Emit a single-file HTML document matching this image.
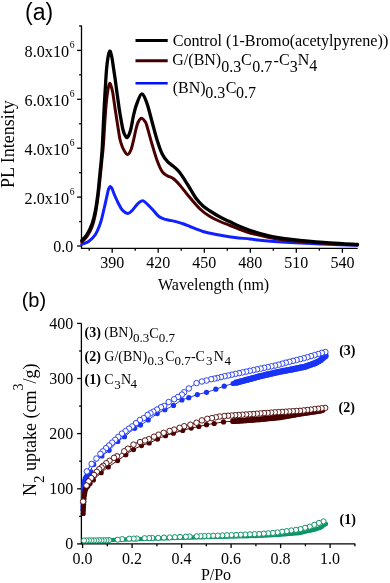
<!DOCTYPE html>
<html><head><meta charset="utf-8"><style>
html,body{margin:0;padding:0;background:#fff;}
body{width:390px;height:583px;overflow:hidden;}
svg{display:block;will-change:transform;}
</style></head><body>
<svg width="390" height="583" viewBox="0 0 390 583">
<g stroke="#000" stroke-width="1.3" fill="none">
<path d="M81.5,25.5 V248.4 H357.7"/>
<path d="M77.1,246.0 H81.5"/>
<path d="M79.1,221.6 H81.5"/>
<path d="M77.1,197.1 H81.5"/>
<path d="M79.1,172.7 H81.5"/>
<path d="M77.1,148.2 H81.5"/>
<path d="M79.1,123.8 H81.5"/>
<path d="M77.1,99.3 H81.5"/>
<path d="M79.1,74.8 H81.5"/>
<path d="M77.1,50.4 H81.5"/>
<path d="M79.1,26.0 H81.5"/>
<path d="M89.2,248.4 V250.8"/>
<path d="M112.2,248.4 V252.8"/>
<path d="M135.2,248.4 V250.8"/>
<path d="M158.2,248.4 V252.8"/>
<path d="M181.2,248.4 V250.8"/>
<path d="M204.3,248.4 V252.8"/>
<path d="M227.3,248.4 V250.8"/>
<path d="M250.3,248.4 V252.8"/>
<path d="M273.3,248.4 V250.8"/>
<path d="M296.3,248.4 V252.8"/>
<path d="M319.3,248.4 V250.8"/>
<path d="M342.4,248.4 V252.8"/>
</g>
<g fill="none" stroke-linejoin="round" stroke-linecap="round">
<path d="M81.80,244.30 C82.93,243.83 86.33,243.13 88.60,241.50 C90.87,239.87 93.40,237.67 95.40,234.50 C97.40,231.33 99.17,226.75 100.60,222.50 C102.03,218.25 103.00,213.17 104.00,209.00 C105.00,204.83 105.85,200.78 106.60,197.50 C107.35,194.22 107.90,191.15 108.50,189.30 C109.10,187.45 109.62,186.53 110.20,186.40 C110.78,186.27 111.35,187.23 112.00,188.50 C112.65,189.77 113.07,191.58 114.10,194.00 C115.13,196.42 116.83,200.33 118.20,203.00 C119.57,205.67 120.67,208.25 122.30,210.00 C123.93,211.75 126.28,213.50 128.00,213.50 C129.72,213.50 130.98,211.62 132.60,210.00 C134.22,208.38 136.00,205.33 137.70,203.80 C139.40,202.27 141.08,200.62 142.80,200.80 C144.52,200.98 146.30,203.37 148.00,204.90 C149.70,206.43 151.13,208.02 153.00,210.00 C154.87,211.98 157.13,215.23 159.20,216.80 C161.27,218.37 163.35,218.77 165.40,219.40 C167.45,220.03 169.45,220.15 171.50,220.60 C173.55,221.05 175.65,221.53 177.70,222.10 C179.75,222.67 181.75,223.27 183.80,224.00 C185.85,224.73 187.90,225.65 190.00,226.50 C192.10,227.35 194.27,228.27 196.40,229.10 C198.53,229.93 200.67,230.85 202.80,231.50 C204.93,232.15 206.00,232.33 209.20,233.00 C212.40,233.67 217.70,234.75 222.00,235.50 C226.30,236.25 230.33,236.92 235.00,237.50 C239.67,238.08 244.50,238.42 250.00,239.00 C255.50,239.58 259.67,240.33 268.00,241.00 C276.33,241.67 289.67,242.45 300.00,243.00 C310.33,243.55 320.42,243.93 330.00,244.30 C339.58,244.67 352.92,245.05 357.50,245.20" stroke="#1020ff" stroke-width="3"/>
<path d="M81.80,242.00 C82.67,241.08 85.30,239.00 87.00,236.50 C88.70,234.00 90.60,230.75 92.00,227.00 C93.40,223.25 94.40,219.00 95.40,214.00 C96.40,209.00 97.23,202.83 98.00,197.00 C98.77,191.17 99.37,185.00 100.00,179.00 C100.63,173.00 101.23,166.67 101.80,161.00 C102.37,155.33 102.77,153.33 103.40,145.00 C104.03,136.67 104.90,119.83 105.60,111.00 C106.30,102.17 106.93,96.57 107.60,92.00 C108.27,87.43 109.00,84.52 109.60,83.60 C110.20,82.68 110.67,84.93 111.20,86.50 C111.73,88.07 112.12,89.08 112.80,93.00 C113.48,96.92 114.37,103.83 115.30,110.00 C116.23,116.17 117.63,125.17 118.40,130.00 C119.17,134.83 119.30,136.33 119.90,139.00 C120.50,141.67 121.25,144.00 122.00,146.00 C122.75,148.00 123.50,149.57 124.40,151.00 C125.30,152.43 126.32,154.77 127.40,154.60 C128.48,154.43 129.87,152.43 130.90,150.00 C131.93,147.57 132.78,143.33 133.60,140.00 C134.42,136.67 135.03,133.00 135.80,130.00 C136.57,127.00 137.23,123.97 138.20,122.00 C139.17,120.03 140.47,118.28 141.60,118.20 C142.73,118.12 144.15,120.32 145.00,121.50 C145.85,122.68 145.55,121.58 146.70,125.30 C147.85,129.02 150.18,137.98 151.90,143.80 C153.62,149.62 155.28,155.57 157.00,160.20 C158.72,164.83 160.48,169.02 162.20,171.60 C163.92,174.18 165.42,174.50 167.30,175.70 C169.18,176.90 171.43,177.25 173.50,178.80 C175.57,180.35 177.30,182.27 179.70,185.00 C182.10,187.73 184.52,191.20 187.90,195.20 C191.28,199.20 196.32,205.45 200.00,209.00 C203.68,212.55 206.67,214.42 210.00,216.50 C213.33,218.58 216.67,220.00 220.00,221.50 C223.33,223.00 226.67,224.17 230.00,225.50 C233.33,226.83 236.67,228.25 240.00,229.50 C243.33,230.75 245.33,231.72 250.00,233.00 C254.67,234.28 262.17,236.03 268.00,237.20 C273.83,238.37 279.67,239.27 285.00,240.00 C290.33,240.73 292.50,240.98 300.00,241.60 C307.50,242.22 320.42,243.13 330.00,243.70 C339.58,244.27 352.92,244.78 357.50,245.00" stroke="#4a0000" stroke-width="3"/>
<path d="M81.80,240.50 C82.65,239.50 85.20,237.25 86.90,234.50 C88.60,231.75 90.58,228.00 92.00,224.00 C93.42,220.00 94.40,215.67 95.40,210.50 C96.40,205.33 97.28,198.75 98.00,193.00 C98.72,187.25 99.13,181.67 99.70,176.00 C100.27,170.33 100.95,164.17 101.40,159.00 C101.85,153.83 101.97,153.00 102.40,145.00 C102.83,137.00 103.38,122.67 104.00,111.00 C104.62,99.33 105.50,83.50 106.10,75.00 C106.70,66.50 107.00,63.97 107.60,60.00 C108.20,56.03 109.00,51.70 109.70,51.20 C110.40,50.70 111.17,54.20 111.80,57.00 C112.43,59.80 112.92,64.17 113.50,68.00 C114.08,71.83 114.78,76.33 115.30,80.00 C115.82,83.67 116.15,86.67 116.60,90.00 C117.05,93.33 117.53,96.67 118.00,100.00 C118.47,103.33 118.88,106.67 119.40,110.00 C119.92,113.33 120.53,116.83 121.10,120.00 C121.67,123.17 122.22,126.58 122.80,129.00 C123.38,131.42 123.85,133.10 124.60,134.50 C125.35,135.90 126.30,138.15 127.30,137.40 C128.30,136.65 129.55,133.73 130.60,130.00 C131.65,126.27 132.62,119.22 133.60,115.00 C134.58,110.78 135.17,108.20 136.50,104.70 C137.83,101.20 139.90,94.35 141.60,94.00 C143.30,93.65 144.98,98.07 146.70,102.60 C148.42,107.13 150.18,115.02 151.90,121.20 C153.62,127.38 155.28,134.23 157.00,139.70 C158.72,145.17 160.48,150.40 162.20,154.00 C163.92,157.60 165.42,159.23 167.30,161.30 C169.18,163.37 171.43,164.52 173.50,166.40 C175.57,168.28 177.30,169.50 179.70,172.60 C182.10,175.70 185.18,180.72 187.90,185.00 C190.62,189.28 193.48,194.80 196.00,198.30 C198.52,201.80 200.67,203.88 203.00,206.00 C205.33,208.12 207.17,209.17 210.00,211.00 C212.83,212.83 216.67,215.20 220.00,217.00 C223.33,218.80 226.67,220.22 230.00,221.80 C233.33,223.38 236.60,225.05 240.00,226.50 C243.40,227.95 245.73,228.98 250.40,230.50 C255.07,232.02 262.23,234.25 268.00,235.60 C273.77,236.95 279.67,237.82 285.00,238.60 C290.33,239.38 292.50,239.60 300.00,240.30 C307.50,241.00 320.42,242.13 330.00,242.80 C339.58,243.47 352.92,244.05 357.50,244.30" stroke="#000" stroke-width="3.3"/>
</g>
<path d="M135.5,40.5 H167.7" stroke="#000" stroke-width="3"/>
<path d="M135.5,60.8 H167.7" stroke="#400000" stroke-width="3"/>
<path d="M135.5,83.3 H167.7" stroke="#0010ff" stroke-width="2.5"/>
<g font-family="Liberation Serif"  font-size="16" fill="#000">
<text x="172.7" y="45.6" font-size="16.15">Control (1-Bromo(acetylpyrene))</text>
<text x="172.3" y="64.8" font-size="16">G/(BN)<tspan x="221.3" y="71.5">0.3</tspan><tspan x="241.1" y="64.8">C</tspan><tspan x="252.2" y="71.5">0.7</tspan><tspan x="273.6" y="66.3">-</tspan><tspan x="278.9" y="64.8">C</tspan><tspan x="289.8" y="71.5">3</tspan><tspan x="297.8" y="64.8">N</tspan><tspan x="309.3" y="71.2">4</tspan></text>
<text x="172.7" y="92.8" font-size="16">(BN)<tspan x="205.3" y="98.2">0.3</tspan><tspan x="225.8" y="92.8">C</tspan><tspan x="236.0" y="98.2">0.7</tspan></text>
<text x="24.6" y="56.8" font-size="16.2">8.0x10<tspan font-size="9.6" dx="0.6" dy="-8.6">6</tspan></text>
<text x="24.6" y="105.7" font-size="16.2">6.0x10<tspan font-size="9.6" dx="0.6" dy="-8.6">6</tspan></text>
<text x="24.6" y="154.6" font-size="16.2">4.0x10<tspan font-size="9.6" dx="0.6" dy="-8.6">6</tspan></text>
<text x="24.6" y="203.5" font-size="16.2">2.0x10<tspan font-size="9.6" dx="0.6" dy="-8.6">6</tspan></text>
<text x="73.2" y="252.0" text-anchor="end">0.0</text>
<text x="112.2" y="268.4" text-anchor="middle">390</text>
<text x="158.2" y="268.4" text-anchor="middle">420</text>
<text x="204.3" y="268.4" text-anchor="middle">450</text>
<text x="250.3" y="268.4" text-anchor="middle">480</text>
<text x="296.3" y="268.4" text-anchor="middle">510</text>
<text x="342.4" y="268.4" text-anchor="middle">540</text>
<text x="213.6" y="290" text-anchor="middle">Wavelength (nm)</text>
<text transform="translate(14.2,144.1) rotate(-90)" text-anchor="middle" font-size="18">PL Intensity</text>
</g>
<text x="25" y="19.5" font-family="Liberation Sans" font-size="23">(a)</text>
<g stroke="#000" stroke-width="1.3" fill="none">
<path d="M81.4,323.4 V543.9 H355.3"/>
<path d="M77.1,543.9 H81.5"/>
<path d="M79.1,516.3 H81.5"/>
<path d="M77.1,488.8 H81.5"/>
<path d="M79.1,461.2 H81.5"/>
<path d="M77.1,433.6 H81.5"/>
<path d="M79.1,406.1 H81.5"/>
<path d="M77.1,378.5 H81.5"/>
<path d="M79.1,351.0 H81.5"/>
<path d="M77.1,323.4 H81.5"/>
<path d="M82.6,543.9 V548.1"/>
<path d="M107.3,543.9 V546.3"/>
<path d="M132.1,543.9 V548.1"/>
<path d="M156.9,543.9 V546.3"/>
<path d="M181.6,543.9 V548.1"/>
<path d="M206.3,543.9 V546.3"/>
<path d="M231.1,543.9 V548.1"/>
<path d="M255.9,543.9 V546.3"/>
<path d="M280.6,543.9 V548.1"/>
<path d="M305.4,543.9 V546.3"/>
<path d="M330.1,543.9 V548.1"/>
<path d="M354.9,543.9 V546.3"/>
</g>
<path d="M84.00,541.00 C90.83,540.75 107.33,540.08 125.00,539.50 C142.67,538.92 168.33,538.08 190.00,537.50 C211.67,536.92 240.00,536.45 255.00,536.00 C270.00,535.55 272.50,535.30 280.00,534.80 C287.50,534.30 294.17,533.88 300.00,533.00 C305.83,532.12 311.67,530.33 315.00,529.50 C318.33,528.67 318.17,528.92 320.00,528.00 C321.83,527.08 325.00,524.67 326.00,524.00" fill="none" stroke="#0f9466" stroke-width="1.5"/>
<g fill="#0f9466"><circle cx="84.0" cy="541.0" r="2.2"/><circle cx="86.0" cy="540.9" r="2.2"/><circle cx="88.0" cy="540.9" r="2.2"/><circle cx="90.0" cy="540.8" r="2.2"/><circle cx="92.0" cy="540.7" r="2.2"/><circle cx="94.0" cy="540.6" r="2.2"/><circle cx="96.0" cy="540.6" r="2.2"/><circle cx="98.0" cy="540.5" r="2.2"/><circle cx="100.0" cy="540.4" r="2.2"/><circle cx="102.0" cy="540.3" r="2.2"/><circle cx="104.0" cy="540.3" r="2.2"/><circle cx="106.0" cy="540.2" r="2.2"/><circle cx="108.0" cy="540.1" r="2.2"/><circle cx="110.0" cy="540.0" r="2.2"/><circle cx="112.0" cy="540.0" r="2.2"/><circle cx="114.0" cy="539.9" r="2.2"/><circle cx="116.0" cy="539.8" r="2.2"/><circle cx="118.0" cy="539.8" r="2.2"/><circle cx="120.0" cy="539.7" r="2.2"/><circle cx="122.0" cy="539.6" r="2.2"/><circle cx="124.0" cy="539.5" r="2.2"/><circle cx="126.0" cy="539.5" r="2.2"/><circle cx="128.0" cy="539.4" r="2.2"/><circle cx="130.0" cy="539.3" r="2.2"/><circle cx="132.0" cy="539.3" r="2.2"/><circle cx="134.0" cy="539.2" r="2.2"/><circle cx="136.0" cy="539.2" r="2.2"/><circle cx="138.0" cy="539.1" r="2.2"/><circle cx="140.0" cy="539.0" r="2.2"/><circle cx="142.0" cy="539.0" r="2.2"/><circle cx="144.0" cy="538.9" r="2.2"/><circle cx="146.0" cy="538.9" r="2.2"/><circle cx="148.0" cy="538.8" r="2.2"/><circle cx="150.0" cy="538.7" r="2.2"/><circle cx="152.0" cy="538.7" r="2.2"/><circle cx="154.0" cy="538.6" r="2.2"/><circle cx="156.0" cy="538.5" r="2.2"/><circle cx="158.0" cy="538.5" r="2.2"/><circle cx="160.0" cy="538.4" r="2.2"/><circle cx="162.0" cy="538.4" r="2.2"/><circle cx="164.0" cy="538.3" r="2.2"/><circle cx="166.0" cy="538.2" r="2.2"/><circle cx="168.0" cy="538.2" r="2.2"/><circle cx="170.0" cy="538.1" r="2.2"/><circle cx="172.0" cy="538.1" r="2.2"/><circle cx="174.0" cy="538.0" r="2.2"/><circle cx="176.0" cy="537.9" r="2.2"/><circle cx="178.0" cy="537.9" r="2.2"/><circle cx="180.0" cy="537.8" r="2.2"/><circle cx="182.0" cy="537.7" r="2.2"/><circle cx="184.0" cy="537.7" r="2.2"/><circle cx="186.0" cy="537.6" r="2.2"/><circle cx="188.0" cy="537.6" r="2.2"/><circle cx="190.0" cy="537.5" r="2.2"/><circle cx="192.0" cy="537.5" r="2.2"/><circle cx="194.0" cy="537.4" r="2.2"/><circle cx="196.0" cy="537.4" r="2.2"/><circle cx="198.0" cy="537.3" r="2.2"/><circle cx="200.0" cy="537.3" r="2.2"/><circle cx="202.0" cy="537.2" r="2.2"/><circle cx="204.0" cy="537.2" r="2.2"/><circle cx="206.0" cy="537.1" r="2.2"/><circle cx="208.0" cy="537.1" r="2.2"/><circle cx="210.0" cy="537.0" r="2.2"/><circle cx="212.0" cy="537.0" r="2.2"/><circle cx="214.0" cy="536.9" r="2.2"/><circle cx="216.0" cy="536.9" r="2.2"/><circle cx="218.0" cy="536.9" r="2.2"/><circle cx="220.0" cy="536.8" r="2.2"/><circle cx="222.0" cy="536.8" r="2.2"/><circle cx="224.0" cy="536.7" r="2.2"/><circle cx="226.0" cy="536.7" r="2.2"/><circle cx="228.0" cy="536.6" r="2.2"/><circle cx="230.0" cy="536.6" r="2.2"/><circle cx="232.0" cy="536.5" r="2.2"/><circle cx="234.0" cy="536.5" r="2.2"/><circle cx="236.0" cy="536.4" r="2.2"/><circle cx="238.0" cy="536.4" r="2.2"/><circle cx="240.0" cy="536.3" r="2.2"/><circle cx="242.0" cy="536.3" r="2.2"/><circle cx="244.0" cy="536.3" r="2.2"/><circle cx="246.0" cy="536.2" r="2.2"/><circle cx="248.0" cy="536.2" r="2.2"/><circle cx="250.0" cy="536.1" r="2.2"/><circle cx="252.0" cy="536.1" r="2.2"/><circle cx="254.0" cy="536.0" r="2.2"/><circle cx="256.0" cy="536.0" r="2.2"/><circle cx="258.0" cy="535.9" r="2.2"/><circle cx="260.0" cy="535.8" r="2.2"/><circle cx="262.0" cy="535.7" r="2.2"/><circle cx="264.0" cy="535.6" r="2.2"/><circle cx="266.0" cy="535.5" r="2.2"/><circle cx="268.0" cy="535.4" r="2.2"/><circle cx="270.0" cy="535.3" r="2.2"/><circle cx="272.0" cy="535.2" r="2.2"/><circle cx="274.0" cy="535.1" r="2.2"/><circle cx="276.0" cy="535.0" r="2.2"/><circle cx="278.0" cy="534.9" r="2.2"/><circle cx="280.0" cy="534.8" r="2.2"/><circle cx="282.0" cy="534.6" r="2.2"/><circle cx="284.0" cy="534.4" r="2.2"/><circle cx="286.0" cy="534.3" r="2.2"/><circle cx="288.0" cy="534.1" r="2.2"/><circle cx="290.0" cy="533.9" r="2.2"/><circle cx="292.0" cy="533.7" r="2.2"/><circle cx="294.0" cy="533.5" r="2.2"/><circle cx="296.0" cy="533.4" r="2.2"/><circle cx="298.0" cy="533.2" r="2.2"/><circle cx="300.0" cy="533.0" r="2.2"/><circle cx="302.0" cy="532.5" r="2.2"/><circle cx="304.0" cy="532.1" r="2.2"/><circle cx="306.0" cy="531.6" r="2.2"/><circle cx="308.0" cy="531.1" r="2.2"/><circle cx="310.0" cy="530.7" r="2.2"/><circle cx="312.0" cy="530.2" r="2.2"/><circle cx="314.0" cy="529.7" r="2.2"/><circle cx="316.0" cy="529.2" r="2.2"/><circle cx="318.0" cy="528.6" r="2.2"/><circle cx="320.0" cy="528.0" r="2.2"/><circle cx="322.0" cy="526.7" r="2.2"/><circle cx="324.0" cy="525.3" r="2.2"/><circle cx="326.0" cy="524.0" r="2.2"/></g>
<g fill="#fff" stroke="#0f9466" stroke-width="1.0"><circle cx="323.5" cy="521.4" r="2.6"/><circle cx="318.9" cy="522.9" r="2.6"/><circle cx="314.3" cy="524.8" r="2.6"/><circle cx="309.7" cy="526.6" r="2.6"/><circle cx="305.1" cy="527.8" r="2.6"/><circle cx="300.5" cy="529.1" r="2.6"/><circle cx="295.9" cy="529.8" r="2.6"/><circle cx="291.3" cy="530.4" r="2.6"/><circle cx="286.7" cy="531.1" r="2.6"/><circle cx="282.1" cy="531.7" r="2.6"/><circle cx="277.5" cy="532.4" r="2.6"/><circle cx="272.9" cy="532.9" r="2.6"/><circle cx="268.3" cy="533.2" r="2.6"/><circle cx="263.7" cy="533.6" r="2.6"/><circle cx="259.1" cy="533.9" r="2.6"/><circle cx="254.5" cy="534.1" r="2.6"/><circle cx="249.9" cy="534.3" r="2.6"/><circle cx="245.3" cy="534.5" r="2.6"/><circle cx="240.7" cy="534.7" r="2.6"/><circle cx="236.1" cy="534.9" r="2.6"/><circle cx="231.5" cy="535.0" r="2.6"/><circle cx="226.9" cy="535.2" r="2.6"/><circle cx="222.3" cy="535.4" r="2.6"/><circle cx="217.7" cy="535.6" r="2.6"/><circle cx="213.1" cy="535.7" r="2.6"/><circle cx="208.5" cy="535.9" r="2.6"/><circle cx="204.4" cy="536.0" r="2.6"/><circle cx="200.5" cy="536.1" r="2.6"/><circle cx="196.7" cy="536.3" r="2.6"/><circle cx="189.6" cy="536.5" r="2.6"/><circle cx="185.8" cy="536.7" r="2.6"/><circle cx="180.0" cy="536.9" r="2.6"/><circle cx="174.9" cy="537.2" r="2.6"/><circle cx="169.7" cy="537.4" r="2.6"/><circle cx="164.0" cy="537.6" r="2.6"/><circle cx="158.2" cy="537.9" r="2.6"/><circle cx="152.3" cy="538.0" r="2.6"/><circle cx="149.1" cy="538.1" r="2.6"/><circle cx="144.6" cy="538.2" r="2.6"/><circle cx="136.9" cy="538.5" r="2.6"/><circle cx="133.7" cy="538.6" r="2.6"/><circle cx="129.2" cy="538.7" r="2.6"/><circle cx="122.2" cy="539.1" r="2.6"/><circle cx="117.7" cy="539.7" r="2.6"/><circle cx="109.0" cy="540.2" r="2.6"/><circle cx="106.5" cy="540.3" r="2.6"/><circle cx="104.0" cy="540.3" r="2.6"/><circle cx="101.5" cy="540.3" r="2.6"/><circle cx="99.0" cy="540.3" r="2.6"/><circle cx="96.5" cy="540.4" r="2.6"/><circle cx="94.0" cy="540.4" r="2.6"/><circle cx="91.5" cy="540.4" r="2.6"/><circle cx="89.0" cy="540.4" r="2.6"/><circle cx="86.5" cy="540.5" r="2.6"/><circle cx="84.0" cy="540.5" r="2.6"/></g>
<path d="M86.80,471.40 C87.60,470.15 90.00,466.05 91.60,463.90 C93.20,461.75 94.93,460.18 96.40,458.50 C97.87,456.82 99.32,455.00 100.40,453.80 C101.48,452.60 101.97,452.23 102.90,451.30 C103.83,450.37 104.45,449.65 106.00,448.20 C107.55,446.75 110.15,444.48 112.20,442.60 C114.25,440.72 116.68,438.40 118.30,436.90 C119.92,435.40 120.12,434.98 121.90,433.60 C123.68,432.22 127.28,429.80 129.00,428.60 C130.72,427.40 130.38,427.83 132.20,426.40 C134.02,424.97 137.98,421.38 139.90,420.00 C141.82,418.62 142.42,418.95 143.70,418.10 C144.98,417.25 146.00,415.97 147.60,414.90 C149.20,413.83 151.07,412.98 153.30,411.70 C155.53,410.42 159.18,408.17 161.00,407.20 C162.82,406.23 162.92,406.77 164.20,405.90 C165.48,405.03 167.67,402.73 168.70,402.00 C169.73,401.27 169.48,401.97 170.40,401.50 C171.32,401.03 172.28,400.35 174.20,399.20 C176.12,398.05 180.23,395.75 181.90,394.60 C183.57,393.45 183.05,393.32 184.20,392.30 C185.35,391.28 186.75,390.03 188.80,388.50 C190.85,386.97 194.32,384.27 196.50,383.10 C198.68,381.93 200.23,381.93 201.90,381.50 C203.57,381.07 204.95,380.88 206.50,380.50 C208.05,380.12 209.40,379.62 211.20,379.20 C213.00,378.78 215.50,378.40 217.30,378.00 C219.10,377.60 216.55,378.00 222.00,376.80 C227.45,375.60 241.03,372.70 250.00,370.80 C258.97,368.90 269.07,366.95 275.80,365.40 C282.53,363.85 285.40,362.78 290.40,361.50 C295.40,360.22 301.95,358.72 305.80,357.70 C309.65,356.68 310.93,356.17 313.50,355.40 C316.07,354.63 318.90,353.75 321.20,353.10 C323.50,352.45 326.28,351.77 327.30,351.50" fill="none" stroke="#1a33f8" stroke-width="1"/>
<path d="M83.50,509.00 C83.58,507.17 83.78,501.33 84.00,498.00 C84.22,494.67 84.38,491.83 84.80,489.00 C85.22,486.17 85.88,483.25 86.50,481.00 C87.12,478.75 87.30,478.25 88.50,475.50 C89.70,472.75 91.47,467.75 93.70,464.50 C95.93,461.25 99.33,458.37 101.90,456.00 C104.47,453.63 106.45,452.72 109.10,450.30 C111.75,447.88 115.23,443.77 117.80,441.50 C120.37,439.23 121.68,438.90 124.50,436.70 C127.32,434.50 132.03,430.23 134.70,428.30 C137.37,426.37 138.25,426.48 140.50,425.10 C142.75,423.72 145.42,421.92 148.20,420.00 C150.98,418.08 154.42,415.32 157.20,413.60 C159.98,411.88 162.18,411.07 164.90,409.70 C167.62,408.33 170.67,407.02 173.50,405.40 C176.33,403.78 179.35,401.28 181.90,400.00 C184.45,398.72 186.23,398.60 188.80,397.70 C191.37,396.80 194.35,395.50 197.30,394.60 C200.25,393.70 203.42,393.20 206.50,392.30 C209.58,391.40 212.85,390.22 215.80,389.20 C218.75,388.18 221.32,387.15 224.20,386.20 C227.08,385.25 230.47,384.27 233.10,383.50 C235.73,382.73 237.18,382.35 240.00,381.60 C242.82,380.85 246.67,379.88 250.00,379.00 C253.33,378.12 256.67,377.13 260.00,376.30 C263.33,375.47 266.67,374.75 270.00,374.00 C273.33,373.25 276.67,372.47 280.00,371.80 C283.33,371.13 285.83,370.80 290.00,370.00 C294.17,369.20 300.83,368.08 305.00,367.00 C309.17,365.92 312.50,364.50 315.00,363.50 C317.50,362.50 318.17,362.25 320.00,361.00 C321.83,359.75 325.00,356.83 326.00,356.00" fill="none" stroke="#1a33f8" stroke-width="1"/>
<g fill="#1a33f8"><circle cx="83.0" cy="509.0" r="2.6"/><circle cx="83.1" cy="506.0" r="2.6"/><circle cx="83.2" cy="503.0" r="2.6"/><circle cx="83.3" cy="500.0" r="2.6"/><circle cx="83.4" cy="497.0" r="2.6"/><circle cx="83.5" cy="494.0" r="2.6"/><circle cx="83.6" cy="491.0" r="2.6"/><circle cx="83.8" cy="488.0" r="2.6"/><circle cx="84.0" cy="485.5" r="2.6"/><circle cx="84.3" cy="483.0" r="2.6"/><circle cx="84.7" cy="480.5" r="2.6"/><circle cx="85.3" cy="478.3" r="2.6"/><circle cx="86.2" cy="476.5" r="2.6"/><circle cx="87.5" cy="475.3" r="2.6"/><circle cx="89.0" cy="474.6" r="2.6"/><circle cx="91.0" cy="471.8" r="2.6"/><circle cx="93.7" cy="464.5" r="2.6"/><circle cx="101.9" cy="456.0" r="2.6"/><circle cx="109.1" cy="450.3" r="2.6"/><circle cx="117.8" cy="441.5" r="2.6"/><circle cx="124.5" cy="436.7" r="2.6"/><circle cx="134.7" cy="428.3" r="2.6"/><circle cx="140.5" cy="425.1" r="2.6"/><circle cx="148.2" cy="420.0" r="2.6"/><circle cx="157.2" cy="413.6" r="2.6"/><circle cx="164.9" cy="409.7" r="2.6"/><circle cx="173.5" cy="405.4" r="2.6"/><circle cx="181.9" cy="400.0" r="2.6"/><circle cx="188.8" cy="397.7" r="2.6"/><circle cx="197.3" cy="394.6" r="2.6"/><circle cx="206.5" cy="392.3" r="2.6"/><circle cx="215.8" cy="389.2" r="2.6"/><circle cx="224.2" cy="386.2" r="2.6"/><circle cx="233.1" cy="383.5" r="2.6"/></g>
<g fill="#1a33f8"><circle cx="236.0" cy="382.7" r="3.1"/><circle cx="237.6" cy="382.3" r="3.1"/><circle cx="239.2" cy="381.8" r="3.1"/><circle cx="240.8" cy="381.4" r="3.1"/><circle cx="242.4" cy="381.0" r="3.1"/><circle cx="244.0" cy="380.6" r="3.1"/><circle cx="245.6" cy="380.1" r="3.1"/><circle cx="247.2" cy="379.7" r="3.1"/><circle cx="248.8" cy="379.3" r="3.1"/><circle cx="250.4" cy="378.9" r="3.1"/><circle cx="252.0" cy="378.4" r="3.1"/><circle cx="253.6" cy="378.0" r="3.1"/><circle cx="255.2" cy="377.6" r="3.1"/><circle cx="256.8" cy="377.1" r="3.1"/><circle cx="258.4" cy="376.7" r="3.1"/><circle cx="260.0" cy="376.2" r="3.1"/><circle cx="261.6" cy="375.9" r="3.1"/><circle cx="263.2" cy="375.5" r="3.1"/><circle cx="264.8" cy="375.1" r="3.1"/><circle cx="266.4" cy="374.7" r="3.1"/><circle cx="268.0" cy="374.4" r="3.1"/><circle cx="269.6" cy="374.0" r="3.1"/><circle cx="271.2" cy="373.6" r="3.1"/><circle cx="272.8" cy="373.3" r="3.1"/><circle cx="274.4" cy="372.9" r="3.1"/><circle cx="276.0" cy="372.5" r="3.1"/><circle cx="277.6" cy="372.2" r="3.1"/><circle cx="279.2" cy="371.8" r="3.1"/><circle cx="280.8" cy="371.5" r="3.1"/><circle cx="282.4" cy="371.2" r="3.1"/><circle cx="284.0" cy="370.9" r="3.1"/><circle cx="285.6" cy="370.6" r="3.1"/><circle cx="287.2" cy="370.3" r="3.1"/><circle cx="288.8" cy="370.0" r="3.1"/><circle cx="290.4" cy="369.7" r="3.1"/><circle cx="292.0" cy="369.4" r="3.1"/><circle cx="293.6" cy="369.1" r="3.1"/><circle cx="295.2" cy="368.7" r="3.1"/><circle cx="296.8" cy="368.4" r="3.1"/><circle cx="298.4" cy="368.1" r="3.1"/><circle cx="300.0" cy="367.7" r="3.1"/><circle cx="301.6" cy="367.4" r="3.1"/><circle cx="303.2" cy="367.1" r="3.1"/><circle cx="304.8" cy="366.8" r="3.1"/><circle cx="306.4" cy="366.2" r="3.1"/><circle cx="308.0" cy="365.6" r="3.1"/><circle cx="309.6" cy="365.1" r="3.1"/><circle cx="311.2" cy="364.5" r="3.1"/><circle cx="312.8" cy="363.9" r="3.1"/><circle cx="314.4" cy="363.4" r="3.1"/><circle cx="316.0" cy="362.7" r="3.1"/><circle cx="317.6" cy="361.8" r="3.1"/><circle cx="319.2" cy="361.0" r="3.1"/><circle cx="320.8" cy="360.0" r="3.1"/><circle cx="322.4" cy="358.6" r="3.1"/><circle cx="324.0" cy="357.3" r="3.1"/><circle cx="325.6" cy="355.9" r="3.1"/></g>
<g fill="#fff" stroke="#1a33f8" stroke-width="0.9"><circle cx="325.4" cy="352.0" r="2.75"/><circle cx="321.8" cy="352.9" r="2.75"/><circle cx="318.2" cy="354.0" r="2.75"/><circle cx="314.6" cy="355.1" r="2.75"/><circle cx="311.0" cy="356.1" r="2.75"/><circle cx="307.4" cy="357.2" r="2.75"/><circle cx="303.8" cy="358.2" r="2.75"/><circle cx="300.2" cy="359.1" r="2.75"/><circle cx="296.6" cy="360.0" r="2.75"/><circle cx="293.0" cy="360.9" r="2.75"/><circle cx="289.4" cy="361.8" r="2.75"/><circle cx="285.8" cy="362.7" r="2.75"/><circle cx="282.2" cy="363.7" r="2.75"/><circle cx="278.6" cy="364.7" r="2.75"/><circle cx="275.0" cy="365.6" r="2.75"/><circle cx="271.4" cy="366.3" r="2.75"/><circle cx="267.8" cy="367.1" r="2.75"/><circle cx="264.2" cy="367.8" r="2.75"/><circle cx="260.6" cy="368.6" r="2.75"/><circle cx="257.0" cy="369.3" r="2.75"/><circle cx="253.4" cy="370.1" r="2.75"/><circle cx="249.8" cy="370.8" r="2.75"/><circle cx="246.2" cy="371.6" r="2.75"/><circle cx="242.6" cy="372.4" r="2.75"/><circle cx="239.0" cy="373.2" r="2.75"/><circle cx="235.4" cy="373.9" r="2.75"/><circle cx="231.8" cy="374.7" r="2.75"/><circle cx="228.2" cy="375.5" r="2.75"/><circle cx="224.6" cy="376.2" r="2.75"/><circle cx="221.0" cy="377.1" r="2.75"/><circle cx="217.3" cy="378.0" r="2.75"/><circle cx="214.5" cy="378.6" r="2.75"/><circle cx="211.2" cy="379.2" r="2.75"/><circle cx="206.5" cy="380.5" r="2.75"/><circle cx="201.9" cy="381.5" r="2.75"/><circle cx="196.5" cy="383.1" r="2.75"/><circle cx="188.8" cy="388.5" r="2.75"/><circle cx="184.2" cy="392.3" r="2.75"/><circle cx="181.9" cy="394.6" r="2.75"/><circle cx="178.0" cy="396.9" r="2.75"/><circle cx="174.2" cy="399.2" r="2.75"/><circle cx="168.7" cy="402.0" r="2.75"/><circle cx="164.2" cy="405.9" r="2.75"/><circle cx="161.0" cy="407.2" r="2.75"/><circle cx="157.0" cy="409.5" r="2.75"/><circle cx="153.3" cy="411.7" r="2.75"/><circle cx="150.5" cy="413.3" r="2.75"/><circle cx="147.6" cy="414.9" r="2.75"/><circle cx="143.7" cy="418.1" r="2.75"/><circle cx="139.9" cy="420.0" r="2.75"/><circle cx="136.0" cy="423.2" r="2.75"/><circle cx="132.2" cy="426.4" r="2.75"/><circle cx="129.0" cy="428.6" r="2.75"/><circle cx="125.5" cy="431.1" r="2.75"/><circle cx="121.9" cy="433.6" r="2.75"/><circle cx="118.3" cy="436.9" r="2.75"/><circle cx="115.2" cy="439.8" r="2.75"/><circle cx="112.2" cy="442.6" r="2.75"/><circle cx="109.0" cy="445.5" r="2.75"/><circle cx="106.0" cy="448.2" r="2.75"/><circle cx="102.9" cy="451.3" r="2.75"/><circle cx="100.4" cy="453.8" r="2.75"/><circle cx="96.4" cy="458.5" r="2.75"/><circle cx="91.6" cy="463.9" r="2.75"/><circle cx="86.8" cy="471.4" r="2.75"/></g>
<path d="M83.10,501.60 C83.67,498.92 85.58,488.87 86.50,485.50 C87.42,482.13 87.80,482.65 88.60,481.40 C89.40,480.15 90.40,479.08 91.30,478.00 C92.20,476.92 93.08,475.93 94.00,474.90 C94.92,473.87 95.93,472.75 96.80,471.80 C97.67,470.85 98.42,469.92 99.20,469.20 C99.98,468.48 100.53,468.35 101.50,467.50 C102.47,466.65 103.13,465.60 105.00,464.10 C106.87,462.60 110.73,459.78 112.70,458.50 C114.67,457.22 115.00,457.52 116.80,456.40 C118.60,455.28 120.52,453.92 123.50,451.80 C126.48,449.68 131.12,445.58 134.70,443.70 C138.28,441.82 142.65,441.25 145.00,440.50 C147.35,439.75 147.30,439.83 148.80,439.20 C150.30,438.57 152.38,437.45 154.00,436.70 C155.62,435.95 156.90,435.35 158.50,434.70 C160.10,434.05 161.75,433.42 163.60,432.80 C165.45,432.18 167.83,431.53 169.60,431.00 C171.37,430.47 172.53,430.13 174.20,429.60 C175.87,429.07 177.93,428.37 179.60,427.80 C181.27,427.23 182.40,426.72 184.20,426.20 C186.00,425.68 188.35,425.28 190.40,424.70 C192.45,424.12 194.58,423.42 196.50,422.70 C198.42,421.98 200.10,421.05 201.90,420.40 C203.70,419.75 205.63,419.18 207.30,418.80 C208.97,418.42 210.48,418.35 211.90,418.10 C213.32,417.85 214.52,417.57 215.80,417.30 C217.08,417.03 218.20,416.72 219.60,416.50 C221.00,416.28 219.13,416.38 224.20,416.00 C229.27,415.62 241.53,414.82 250.00,414.20 C258.47,413.58 266.67,412.87 275.00,412.30 C283.33,411.73 292.50,411.43 300.00,410.80 C307.50,410.17 315.45,409.02 320.00,408.50 C324.55,407.98 326.08,407.83 327.30,407.70" fill="none" stroke="#4a0000" stroke-width="1"/>
<path d="M83.50,513.50 C83.55,512.08 83.63,507.75 83.80,505.00 C83.97,502.25 84.17,499.33 84.50,497.00 C84.83,494.67 85.30,492.67 85.80,491.00 C86.30,489.33 86.80,488.17 87.50,487.00 C88.20,485.83 89.02,485.17 90.00,484.00 C90.98,482.83 91.55,481.87 93.40,480.00 C95.25,478.13 98.57,475.02 101.10,472.80 C103.63,470.58 105.82,468.75 108.60,466.70 C111.38,464.65 114.90,462.52 117.80,460.50 C120.70,458.48 123.53,456.35 126.00,454.60 C128.47,452.85 130.02,451.50 132.60,450.00 C135.18,448.50 138.73,446.77 141.50,445.60 C144.27,444.43 146.53,444.08 149.20,443.00 C151.87,441.92 154.78,440.32 157.50,439.10 C160.22,437.88 162.85,436.68 165.50,435.70 C168.15,434.72 170.53,434.08 173.40,433.20 C176.27,432.32 179.73,431.25 182.70,430.40 C185.67,429.55 188.52,428.75 191.20,428.10 C193.88,427.45 196.25,427.07 198.80,426.50 C201.35,425.93 203.93,425.20 206.50,424.70 C209.07,424.20 211.37,423.97 214.20,423.50 C217.03,423.03 220.53,422.27 223.50,421.90 C226.47,421.53 229.25,421.48 232.00,421.30 C234.75,421.12 235.33,421.13 240.00,420.80 C244.67,420.47 253.33,419.88 260.00,419.30 C266.67,418.72 273.33,418.22 280.00,417.30 C286.67,416.38 293.33,414.88 300.00,413.80 C306.67,412.72 316.00,411.52 320.00,410.80 C324.00,410.08 323.33,409.72 324.00,409.50" fill="none" stroke="#4a0000" stroke-width="1"/>
<g fill="#4a0000"><circle cx="83.2" cy="513.5" r="2.6"/><circle cx="83.3" cy="510.5" r="2.6"/><circle cx="83.4" cy="507.5" r="2.6"/><circle cx="83.6" cy="504.5" r="2.6"/><circle cx="83.8" cy="501.5" r="2.6"/><circle cx="84.0" cy="498.5" r="2.6"/><circle cx="84.3" cy="495.5" r="2.6"/><circle cx="84.7" cy="493.0" r="2.6"/><circle cx="85.2" cy="490.5" r="2.6"/><circle cx="85.8" cy="488.5" r="2.6"/><circle cx="86.6" cy="487.2" r="2.6"/><circle cx="88.0" cy="486.0" r="2.6"/><circle cx="90.0" cy="483.5" r="2.6"/><circle cx="93.4" cy="480.0" r="2.6"/><circle cx="101.2" cy="472.7" r="2.6"/><circle cx="108.3" cy="466.9" r="2.6"/><circle cx="117.6" cy="460.6" r="2.6"/><circle cx="125.8" cy="454.7" r="2.6"/><circle cx="133.5" cy="449.6" r="2.6"/><circle cx="141.5" cy="445.6" r="2.6"/><circle cx="149.2" cy="443.0" r="2.6"/><circle cx="157.5" cy="439.1" r="2.6"/><circle cx="165.5" cy="435.7" r="2.6"/><circle cx="173.4" cy="433.2" r="2.6"/><circle cx="182.7" cy="430.4" r="2.6"/><circle cx="191.2" cy="428.1" r="2.6"/><circle cx="198.8" cy="426.5" r="2.6"/><circle cx="206.5" cy="424.7" r="2.6"/><circle cx="214.2" cy="423.5" r="2.6"/><circle cx="223.5" cy="421.9" r="2.6"/></g>
<g fill="#4a0000"><circle cx="233.0" cy="421.2" r="2.85"/><circle cx="234.6" cy="421.1" r="2.85"/><circle cx="236.2" cy="421.0" r="2.85"/><circle cx="237.8" cy="420.9" r="2.85"/><circle cx="239.4" cy="420.8" r="2.85"/><circle cx="241.0" cy="420.7" r="2.85"/><circle cx="242.6" cy="420.6" r="2.85"/><circle cx="244.2" cy="420.5" r="2.85"/><circle cx="245.8" cy="420.4" r="2.85"/><circle cx="247.4" cy="420.2" r="2.85"/><circle cx="249.0" cy="420.1" r="2.85"/><circle cx="250.6" cy="420.0" r="2.85"/><circle cx="252.2" cy="419.9" r="2.85"/><circle cx="253.8" cy="419.8" r="2.85"/><circle cx="255.4" cy="419.6" r="2.85"/><circle cx="257.0" cy="419.5" r="2.85"/><circle cx="258.6" cy="419.4" r="2.85"/><circle cx="260.2" cy="419.3" r="2.85"/><circle cx="261.8" cy="419.1" r="2.85"/><circle cx="263.4" cy="419.0" r="2.85"/><circle cx="265.0" cy="418.8" r="2.85"/><circle cx="266.6" cy="418.6" r="2.85"/><circle cx="268.2" cy="418.5" r="2.85"/><circle cx="269.8" cy="418.3" r="2.85"/><circle cx="271.4" cy="418.2" r="2.85"/><circle cx="273.0" cy="418.0" r="2.85"/><circle cx="274.6" cy="417.8" r="2.85"/><circle cx="276.2" cy="417.7" r="2.85"/><circle cx="277.8" cy="417.5" r="2.85"/><circle cx="279.4" cy="417.4" r="2.85"/><circle cx="281.0" cy="417.1" r="2.85"/><circle cx="282.6" cy="416.8" r="2.85"/><circle cx="284.2" cy="416.6" r="2.85"/><circle cx="285.8" cy="416.3" r="2.85"/><circle cx="287.4" cy="416.0" r="2.85"/><circle cx="289.0" cy="415.7" r="2.85"/><circle cx="290.6" cy="415.4" r="2.85"/><circle cx="292.2" cy="415.2" r="2.85"/><circle cx="293.8" cy="414.9" r="2.85"/><circle cx="295.4" cy="414.6" r="2.85"/><circle cx="297.0" cy="414.3" r="2.85"/><circle cx="298.6" cy="414.0" r="2.85"/><circle cx="300.2" cy="413.8" r="2.85"/><circle cx="301.8" cy="413.5" r="2.85"/><circle cx="303.4" cy="413.3" r="2.85"/><circle cx="305.0" cy="413.0" r="2.85"/><circle cx="306.6" cy="412.8" r="2.85"/><circle cx="308.2" cy="412.6" r="2.85"/><circle cx="309.8" cy="412.3" r="2.85"/><circle cx="311.4" cy="412.1" r="2.85"/><circle cx="313.0" cy="411.8" r="2.85"/><circle cx="314.6" cy="411.6" r="2.85"/><circle cx="316.2" cy="411.4" r="2.85"/><circle cx="317.8" cy="411.1" r="2.85"/><circle cx="319.4" cy="410.9" r="2.85"/><circle cx="321.0" cy="410.5" r="2.85"/><circle cx="322.6" cy="410.0" r="2.85"/></g>
<g fill="#fff" stroke="#4a0000" stroke-width="0.9"><circle cx="325.2" cy="407.9" r="2.75"/><circle cx="321.6" cy="408.3" r="2.75"/><circle cx="318.0" cy="408.7" r="2.75"/><circle cx="314.4" cy="409.1" r="2.75"/><circle cx="310.8" cy="409.6" r="2.75"/><circle cx="307.2" cy="410.0" r="2.75"/><circle cx="303.6" cy="410.4" r="2.75"/><circle cx="300.0" cy="410.8" r="2.75"/><circle cx="296.4" cy="411.0" r="2.75"/><circle cx="292.8" cy="411.2" r="2.75"/><circle cx="289.2" cy="411.4" r="2.75"/><circle cx="285.6" cy="411.7" r="2.75"/><circle cx="282.0" cy="411.9" r="2.75"/><circle cx="278.4" cy="412.1" r="2.75"/><circle cx="274.8" cy="412.3" r="2.75"/><circle cx="271.2" cy="412.6" r="2.75"/><circle cx="267.6" cy="412.9" r="2.75"/><circle cx="264.0" cy="413.1" r="2.75"/><circle cx="260.4" cy="413.4" r="2.75"/><circle cx="256.8" cy="413.7" r="2.75"/><circle cx="253.2" cy="414.0" r="2.75"/><circle cx="249.6" cy="414.2" r="2.75"/><circle cx="246.0" cy="414.5" r="2.75"/><circle cx="242.4" cy="414.7" r="2.75"/><circle cx="238.8" cy="415.0" r="2.75"/><circle cx="235.2" cy="415.2" r="2.75"/><circle cx="231.6" cy="415.5" r="2.75"/><circle cx="228.0" cy="415.7" r="2.75"/><circle cx="224.2" cy="416.0" r="2.75"/><circle cx="219.6" cy="416.5" r="2.75"/><circle cx="215.8" cy="417.3" r="2.75"/><circle cx="211.9" cy="418.1" r="2.75"/><circle cx="207.3" cy="418.8" r="2.75"/><circle cx="201.9" cy="420.4" r="2.75"/><circle cx="196.5" cy="422.7" r="2.75"/><circle cx="190.4" cy="424.7" r="2.75"/><circle cx="184.2" cy="426.2" r="2.75"/><circle cx="179.6" cy="427.8" r="2.75"/><circle cx="174.2" cy="429.6" r="2.75"/><circle cx="169.6" cy="431.0" r="2.75"/><circle cx="163.6" cy="432.8" r="2.75"/><circle cx="158.5" cy="434.7" r="2.75"/><circle cx="154.0" cy="436.7" r="2.75"/><circle cx="148.8" cy="439.2" r="2.75"/><circle cx="145.0" cy="440.5" r="2.75"/><circle cx="140.0" cy="442.1" r="2.75"/><circle cx="133.5" cy="444.6" r="2.75"/><circle cx="127.8" cy="448.7" r="2.75"/><circle cx="124.2" cy="451.3" r="2.75"/><circle cx="117.0" cy="456.3" r="2.75"/><circle cx="114.0" cy="457.8" r="2.75"/><circle cx="109.5" cy="460.8" r="2.75"/><circle cx="106.3" cy="463.2" r="2.75"/><circle cx="103.2" cy="465.8" r="2.75"/><circle cx="101.6" cy="467.4" r="2.75"/><circle cx="99.2" cy="469.2" r="2.75"/><circle cx="96.8" cy="471.8" r="2.75"/><circle cx="94.0" cy="474.9" r="2.75"/><circle cx="91.3" cy="478.0" r="2.75"/><circle cx="88.6" cy="481.4" r="2.75"/><circle cx="86.5" cy="485.5" r="2.75"/><circle cx="83.1" cy="501.6" r="2.75"/></g>
<g font-family="Liberation Serif"  font-size="16" fill="#000">
<text x="73.2" y="549.3" text-anchor="end">0</text>
<text x="73.2" y="494.2" text-anchor="end">100</text>
<text x="73.2" y="439.0" text-anchor="end">200</text>
<text x="73.2" y="383.9" text-anchor="end">300</text>
<text x="73.2" y="328.8" text-anchor="end">400</text>
<text x="82.6" y="563.6" text-anchor="middle">0.0</text>
<text x="132.1" y="563.6" text-anchor="middle">0.2</text>
<text x="181.6" y="563.6" text-anchor="middle">0.4</text>
<text x="231.1" y="563.6" text-anchor="middle">0.6</text>
<text x="280.6" y="563.6" text-anchor="middle">0.8</text>
<text x="330.1" y="563.6" text-anchor="middle">1.0</text>
<text x="216" y="580" text-anchor="middle">P/Po</text>
<text transform="translate(36,429.8) rotate(-90)" text-anchor="middle" font-size="18">N<tspan font-size="15" dy="8">2</tspan><tspan dy="-8"> uptake (cm</tspan><tspan font-size="14" dy="-13.5">3</tspan><tspan dy="13.5">/g)</tspan></text>
</g>
<g font-family="Liberation Serif"  font-size="14" fill="#000">
<text x="84.5" y="337.0"><tspan font-weight="bold">(3)</tspan> (BN)<tspan font-size="13" y="342.3">0.3</tspan><tspan y="338.4">C</tspan><tspan font-size="13" y="342.3">0.7</tspan></text>
<text x="84.5" y="360.6" font-size="14"><tspan font-weight="bold">(2)</tspan><tspan y="360.6"> G/(BN)</tspan><tspan x="147.5" y="365.3" font-size="13">0.3</tspan><tspan x="165.2" y="360.8">C</tspan><tspan x="174.6" y="365.3" font-size="13">0.7</tspan><tspan x="190.9" y="360.8">-C</tspan><tspan x="206.0" y="365.3" font-size="13">3</tspan><tspan x="213.8" y="360.8">N</tspan><tspan x="224.4" y="365.0" font-size="13">4</tspan></text>
<text x="84.5" y="383.8" font-size="14"><tspan font-weight="bold">(1)</tspan><tspan y="383.8"> C</tspan><tspan x="114.3" y="388.5" font-size="13">3</tspan><tspan x="120.9" y="384.0">N</tspan><tspan x="130.5" y="388.1" font-size="13">4</tspan></text>
<text x="339.2" y="354.8" font-weight="bold">(3)</text>
<text x="338.6" y="411.9" font-weight="bold">(2)</text>
<text x="339.5" y="523.5" font-weight="bold">(1)</text>
</g>
<text x="21.7" y="307" font-family="Liberation Sans" font-size="20">(b)</text>
</svg>
</body></html>
